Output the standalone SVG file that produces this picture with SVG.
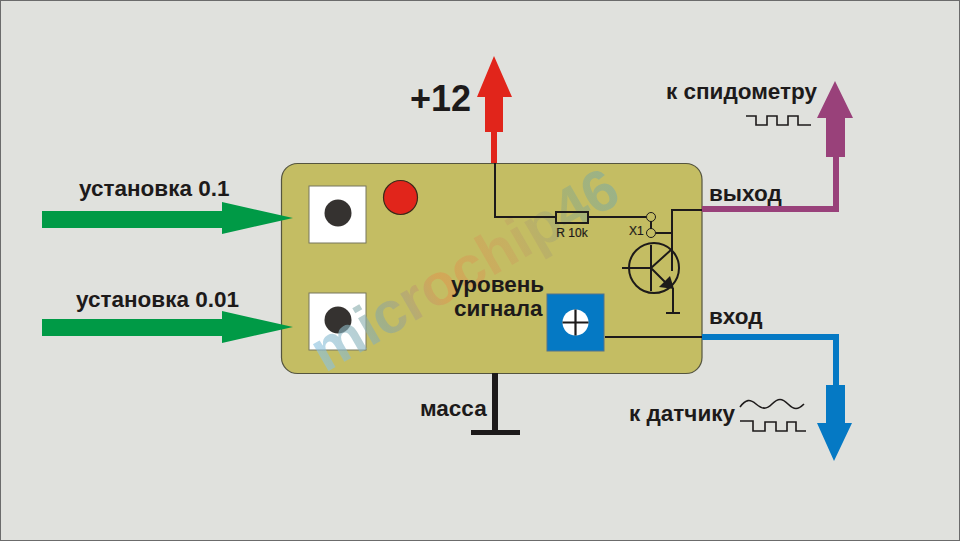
<svg xmlns="http://www.w3.org/2000/svg" width="960" height="541" viewBox="0 0 960 541">
<style>
text{font-family:"Liberation Sans",Arial,sans-serif;font-weight:bold;fill:#1d1a1a;font-size:22.5px}
.wm{font-size:58.500px;fill:url(#wm);fill-opacity:.62}
.w{fill:none;stroke:#1d1a1a;stroke-width:2}
.t{fill:none;stroke:#1d1a1a;stroke-width:1.6}
.sq{fill:#fff;stroke:#77775f;stroke-width:1}
.k{fill:#353230}
.g{fill:#009a46}
.s{font-size:12px;font-weight:normal;stroke:#1d1a1a;stroke-width:.2}
</style>
<defs>
<linearGradient id="wm" gradientUnits="userSpaceOnUse" x1="0" y1="0" x2="345" y2="0">
<stop offset="0" stop-color="#8cc4e4"/><stop offset=".22" stop-color="#8aa8a0"/><stop offset=".42" stop-color="#dc9a50"/><stop offset=".65" stop-color="#c8a860"/><stop offset=".85" stop-color="#98ac7c"/><stop offset="1" stop-color="#80aca0"/>
</linearGradient>
</defs>
<rect x="0.5" y="0.5" width="959" height="540" fill="#e0e1dd" stroke="#6b6b6b"/>
<g id="board"><rect x="281.5" y="163.5" width="420.5" height="210" rx="16" fill="#c4bd63" stroke="#55553f" stroke-width="1.2"/></g>
<g id="button1"><rect class="sq" x="309" y="186" width="57" height="57"/><circle class="k" cx="338" cy="213" r="13.5"/></g>
<g id="button2"><rect class="sq" x="309" y="293" width="57" height="57"/><circle class="k" cx="338" cy="320" r="13.5"/></g>
<g id="watermark"><text class="wm" transform="translate(325 373) rotate(-30)">microchip46</text></g>
<g id="connectors">
<path class="g" d="M42 211H222V202L293 218L222 234V228H42Z"/>
<path class="g" d="M42 319H222V311L293 327L222 343V336H42Z"/>
<path fill="#e1251b" d="M491 163V132H485V97H477L494 56L512 97H503V132H497V163Z"/>
<path fill="#99417a" d="M702 206H833V157H826V118H817L835 81L853 118H845V157H839V212H702Z"/>
<path fill="#0579c4" d="M702 334H839V385H845V423H852L834 461L817 423H826V385H833V340H702Z"/>
<path fill="#1d1a1a" d="M492 373H498V430H520V435H471V430H492Z"/>
<path class="w" d="M495 163V217H556M589 217H646M605 337H702M702 210H672V271M672 233H656M651 221V229"/>
</g>
<g id="led"><circle cx="400.500" cy="197.500" r="17" fill="#e1251b" stroke="#3a2a1a" stroke-width="1.2"/></g>
<g id="resistor"><rect x="556" y="212" width="32" height="11" fill="none" stroke="#1d1a1a" stroke-width="2"/><text x="572" y="237" text-anchor="middle" class="s">R 10k</text></g>
<g id="x1"><circle cx="651" cy="217" r="4.500" fill="none" stroke="#1d1a1a" stroke-width="1"/><circle cx="651" cy="233" r="4.500" fill="none" stroke="#1d1a1a" stroke-width="1"/><text x="629" y="235" class="s">X1</text></g>
<g id="transistor">
<circle cx="654" cy="268" r="25" fill="none" stroke="#1d1a1a" stroke-width="2"/>
<path class="w" d="M622 268H651M651 245V291M651 268L672 249M651 268L669 286M673 288V313M666 313H680"/>
<path fill="#1d1a1a" d="M674 289L659 287L670 276Z"/>
</g>
<g id="trimmer"><rect x="547" y="294" width="57" height="57" fill="#0579c4" stroke="#55728a" stroke-width="1"/><circle cx="575.500" cy="322.500" r="13" fill="#fff"/><path d="M575.500 309.500V335.500M562.500 322.500H588.500" stroke="#1d1a1a" stroke-width="2.200" fill="none"/></g>
<g id="signals">
<path class="t" d="M746 116H756V125H767V116H777V125H788V116H798V125H811"/>
<path class="t" d="M740 421H753V431H765V422H776V431H787V422H796V431H806"/>
<path class="t" d="M740 407C746 399 750 399 756 404S766 410 772 404S782 398 788 404S798 410 804 404"/>
</g>
<g id="labels">
<text x="79" y="196">установка 0.1</text>
<text x="76" y="307">установка 0.01</text>
<text x="410" y="111" style="font-size:36px">+12</text>
<text x="666" y="99">к спидометру</text>
<text x="709" y="201">выход</text>
<text x="709" y="324">вход</text>
<text x="629" y="421">к датчику</text>
<text x="420" y="416">масса</text>
<text x="451" y="292">уровень</text>
<text x="454" y="316">сигнала</text>
</g>
</svg>
